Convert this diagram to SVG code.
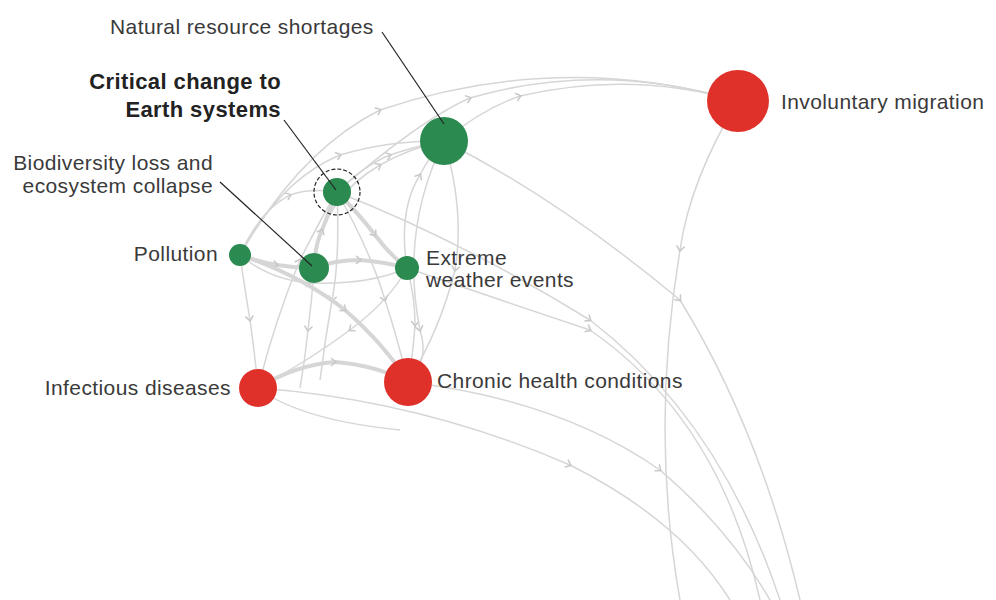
<svg xmlns="http://www.w3.org/2000/svg" width="996" height="600" viewBox="0 0 996 600">
<style>
.c{fill:none;stroke:#d6d6d6;stroke-width:1.5}
.t{stroke-width:4}
.g{fill:#2a8a4f}.r{fill:#e0302a}
text{font-family:"Liberation Sans",Arial,sans-serif;font-size:21px;letter-spacing:0.4px;fill:#3a3a3a}
.b{font-weight:bold;fill:#222;font-size:22px}
.l{stroke:#222;stroke-width:1.2;fill:none}
</style>
<defs><marker id="a" viewBox="0 0 10 10" refX="5" refY="5" markerWidth="10" markerHeight="10" markerUnits="userSpaceOnUse" orient="auto"><path d="M1 1L6 5L1 9" fill="none" stroke="#c8c8c8" stroke-width="1.5"/></marker></defs>
<rect width="996" height="600" fill="#fff"/>
<g id="connectors" marker-mid="url(#a)">
<path class="c" d="M337 192Q420 120 470 98Q600 60 738 101"/>
<path class="c" d="M444 141Q480 110 520 96Q630 70 738 101"/>
<path class="c" d="M240 255Q300 150 380 110Q560 50 738 101"/>
<path class="c" d="M738 101Q690 180 680 250Q650 430 680 600"/>
<path class="c" d="M444 141Q560 200 680 300Q760 430 800 600"/>
<path class="c" d="M337 192Q460 240 590 320Q720 420 780 600"/>
<path class="c" d="M407 268Q500 300 590 330Q720 420 760 600"/>
<path class="c" d="M258 388Q420 400 570 465Q680 520 730 600"/>
<path class="c" d="M408 382Q560 400 660 470Q730 530 770 600"/>
<path class="c" d="M258 388Q300 420 400 430"/>
<path class="c" d="M240 255Q260 210 290 195Q310 188 337 192"/>
<path class="c" d="M240 255Q280 180 340 155Q390 140 444 141"/>
<path class="c" d="M314 268Q320 200 380 165Q410 148 444 141"/>
<path class="c" d="M337 192Q365 165 390 155Q420 145 444 141"/>
<path class="c" d="M407 268Q398 210 420 175Q430 155 444 141"/>
<path class="c t" d="M337 192Q360 215 375 235Q390 255 407 268"/>
<path class="c t" d="M314 268Q315 245 322 230Q330 210 337 192"/>
<path class="c t" d="M240 255Q260 262 277 265Q295 268 314 268"/>
<path class="c t" d="M314 268Q335 260 360 260Q385 262 407 268"/>
<path class="c" d="M240 255Q270 280 310 283Q370 285 407 268"/>
<path class="c" d="M240 255Q245 290 250 320Q255 355 258 388"/>
<path class="c" d="M314 268Q312 300 308 330Q305 360 300 388"/>
<path class="c" d="M337 192Q340 260 332 300Q325 340 320 380"/>
<path class="c" d="M407 268Q390 300 350 330Q310 360 258 388"/>
<path class="c" d="M407 268Q415 295 415 325Q413 355 408 382"/>
<path class="c" d="M444 141Q465 210 455 270Q440 330 408 382"/>
<path class="c" d="M444 141Q400 230 420 330Q430 360 408 382"/>
<path class="c t" d="M258 388Q295 365 335 362Q375 365 408 382"/>
<path class="c t" d="M240 255Q300 275 345 310Q385 345 408 382"/>
<path class="c" d="M337 192Q370 250 385 300Q398 340 408 382"/>
<path class="c" d="M258 388Q275 320 300 260Q320 220 337 192"/>
</g>
<g id="natural"><circle class="g" cx="444" cy="141" r="24"/><path class="l" d="M382 32L444 124"/><text x="110" y="34">Natural resource shortages</text></g>
<g id="critical"><circle class="g" cx="337" cy="192" r="14"/><circle cx="337" cy="192" r="23" fill="none" stroke="#222" stroke-width="1.2" stroke-dasharray="4 2"/><path class="l" d="M284 120L336 190"/><text class="b" x="281" y="89" text-anchor="end">Critical change to</text><text class="b" x="281" y="117" text-anchor="end">Earth systems</text></g>
<g id="biodiversity"><circle class="g" cx="314" cy="268" r="15"/><path class="l" d="M220 182L312 266"/><text x="213" y="170" text-anchor="end">Biodiversity loss and</text><text x="213" y="193" text-anchor="end">ecosystem collapse</text></g>
<g id="pollution"><circle class="g" cx="240" cy="255" r="11"/><text x="218" y="261" text-anchor="end">Pollution</text></g>
<g id="extreme"><circle class="g" cx="407" cy="268" r="12"/><text x="426" y="265">Extreme</text><text x="426" y="287">weather events</text></g>
<g id="infectious"><circle class="r" cx="258" cy="388" r="19"/><text x="231" y="395" text-anchor="end">Infectious diseases</text></g>
<g id="chronic"><circle class="r" cx="408" cy="382" r="24"/><text x="437" y="388">Chronic health conditions</text></g>
<g id="involuntary"><circle class="r" cx="738" cy="101" r="31"/><text x="781" y="109">Involuntary migration</text></g>
</svg>
